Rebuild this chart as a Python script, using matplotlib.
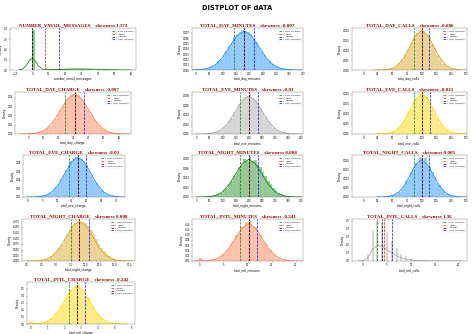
import numpy as np
import matplotlib.pyplot as plt

# number_vmail_messages
vmail_start, vmail_width = 0.0, 1.9
vmail_density = [0.390, 0.0, 0.0005, 0.001, 0.002, 0.003, 0.005, 0.007, 0.008, 0.009, 0.010,
                 0.010, 0.010, 0.009, 0.009, 0.008, 0.007, 0.006, 0.005, 0.004, 0.003, 0.002,
                 0.0015, 0.001, 0.0005, 0.0003, 0.0002]
vmail_kde_x = [-8, -6, -4, -2, 0, 2, 4, 6, 8, 10, 15, 20, 25, 30, 35, 40, 45, 50, 55, 60]
vmail_kde_y = [0.001, 0.009, 0.036, 0.085, 0.115, 0.085, 0.037, 0.011, 0.004, 0.003, 0.005,
               0.008, 0.010, 0.010, 0.009, 0.007, 0.004, 0.002, 0.0008, 0.0002]
vmail_stats = [0.0, 7.76, 0.0, 16.0]

# total_day_minutes
day_min_start, day_min_width = 0.0, 10.0
day_min_density = [0.00005, 0.00006, 0.00015, 0.0002, 0.00035, 0.00048, 0.0008, 0.0011, 0.0016,
                   0.0021, 0.0029, 0.0035, 0.0045, 0.0051, 0.0061, 0.0065, 0.0072, 0.0075, 0.0073,
                   0.0071, 0.0067, 0.0059, 0.0053, 0.0043, 0.0036, 0.0029, 0.0021, 0.0016, 0.0011,
                   0.0008, 0.0005, 0.0003, 0.0002, 0.0001, 0.00005]
day_min_kde_x = [-36, -9, 18, 45, 72, 99, 126, 153, 180, 207, 234, 261, 288, 315, 342, 369, 396]
day_min_kde_y = [0.0, 0.00002, 0.00008, 0.00032, 0.00099, 0.00237, 0.00443, 0.00644, 0.0073,
                 0.00644, 0.00443, 0.00237, 0.00099, 0.00032, 0.00008, 0.00002, 0.0]
day_min_stats = [143.7, 180.3, 180.1, 216.2]

# total_day_calls
day_calls_start, day_calls_width = 0.0, 5.0
day_calls_density = [0.0001, 0.0, 0.0, 0.0, 0.00002, 0.00004, 0.0001, 0.0002, 0.0003, 0.0007,
                     0.0012, 0.002, 0.0035, 0.0051, 0.0079, 0.0104, 0.0136, 0.0159, 0.0188, 0.0195,
                     0.0201, 0.0181, 0.0167, 0.0129, 0.0110, 0.0074, 0.0055, 0.0031, 0.0022, 0.0011,
                     0.0006, 0.0003, 0.0001]
day_calls_kde_x = [20, 30, 40, 50, 60, 70, 80, 90, 100, 110, 120, 130, 140, 150, 160, 170, 180]
day_calls_kde_y = [0.00001, 0.00004, 0.00022, 0.00087, 0.00268, 0.00643, 0.01201, 0.01747, 0.0198,
                   0.01747, 0.01201, 0.00643, 0.00268, 0.00087, 0.00022, 0.00004, 0.00001]
day_calls_stats = [87.0, 100.0, 100.0, 113.0]

# total_day_charge
day_chg_start, day_chg_width = 0.0, 1.7
day_chg_density = [0.0003, 0.0004, 0.0008, 0.0013, 0.0019, 0.0029, 0.0045, 0.0066, 0.0091, 0.0126,
                   0.0163, 0.0211, 0.0257, 0.0301, 0.0347, 0.0389, 0.0416, 0.0431, 0.0428, 0.0416,
                   0.0383, 0.0352, 0.0300, 0.0258, 0.0207, 0.0167, 0.0124, 0.0092, 0.0065, 0.0044,
                   0.003, 0.0019, 0.0011, 0.0007, 0.0003]
day_chg_kde_x = [-6.4, -1.8, 2.9, 7.5, 12.1, 16.7, 21.3, 26.0, 30.6, 35.2, 39.9, 44.5, 49.1, 53.7,
                 58.4, 63.0, 67.6]
day_chg_kde_y = [0.0, 0.0001, 0.0005, 0.0019, 0.0058, 0.014, 0.0261, 0.038, 0.043, 0.038, 0.0261,
                 0.014, 0.0058, 0.0019, 0.0005, 0.0001, 0.0]
day_chg_stats = [24.43, 30.65, 30.62, 36.75]

# total_eve_minutes
eve_min_start, eve_min_width = 0.0, 10.0
eve_min_density = [0.00002, 0.0, 0.00002, 0.00006, 0.00008, 0.00012, 0.00024, 0.00035, 0.00062,
                   0.00088, 0.0014, 0.0019, 0.0027, 0.0034, 0.0045, 0.0052, 0.0063, 0.0069, 0.0077,
                   0.0078, 0.0083, 0.0074, 0.0071, 0.0061, 0.0054, 0.0043, 0.0035, 0.0026, 0.0020,
                   0.0013, 0.0009, 0.0006, 0.0004, 0.0002, 0.00013, 0.00006, 0.00004]
eve_min_kde_x = [-2, 23, 49, 74, 99, 125, 150, 175, 200.6, 226, 251, 276, 302, 327, 352, 378, 403]
eve_min_kde_y = [0.0, 0.00002, 0.00009, 0.00035, 0.00107, 0.00257, 0.00479, 0.00697, 0.0079,
                 0.00697, 0.00479, 0.00257, 0.00107, 0.00035, 0.00009, 0.00002, 0.0]
eve_min_stats = [166.4, 200.6, 201.0, 234.1]

# total_eve_calls
eve_calls_start, eve_calls_width = 0.0, 5.0
eve_calls_density = [0.00005, 0.0, 0.0, 0.0, 0.0, 0.00002, 0.00008, 0.00014, 0.0004, 0.0006,
                     0.0013, 0.0020, 0.0034, 0.0054, 0.0075, 0.0109, 0.0131, 0.0166, 0.0181, 0.0200,
                     0.0193, 0.0186, 0.0160, 0.0135, 0.0104, 0.0079, 0.0051, 0.0035, 0.0020, 0.0012,
                     0.0007, 0.0003, 0.00015, 0.00006]
eve_calls_kde_x = [20.6, 30.5, 40.5, 50.4, 60.4, 70.3, 80.3, 90.2, 100.2, 110.1, 120.1, 130.0,
                   140.0, 149.9, 159.9, 169.8, 179.8]
eve_calls_kde_y = [0.00001, 0.00004, 0.00022, 0.00088, 0.00271, 0.00649, 0.01213, 0.01765, 0.02,
                   0.01765, 0.01213, 0.00649, 0.00271, 0.00088, 0.00022, 0.00004, 0.00001]
eve_calls_stats = [87.0, 100.2, 100.0, 114.0]

# total_eve_charge
eve_chg_start, eve_chg_width = 0.0, 0.85
eve_chg_density = [0.0003, 0.0001, 0.0002, 0.0006, 0.0009, 0.0014, 0.0027, 0.0043, 0.0072, 0.0105,
                   0.0160, 0.0226, 0.0310, 0.0412, 0.0513, 0.0624, 0.0729, 0.0832, 0.0880, 0.0935,
                   0.0915, 0.0896, 0.0815, 0.0738, 0.0617, 0.0520, 0.0404, 0.0316, 0.0223, 0.0162,
                   0.0106, 0.0070, 0.0045, 0.0025, 0.0015, 0.0008, 0.0005]
eve_chg_kde_x = [-0.15, 2.0, 4.15, 6.3, 8.45, 10.6, 12.75, 14.9, 17.05, 19.2, 21.35, 23.5, 25.65,
                 27.8, 29.95, 32.1, 34.25]
eve_chg_kde_y = [0.0, 0.0002, 0.001, 0.0041, 0.0126, 0.0302, 0.0564, 0.0821, 0.093, 0.0821, 0.0564,
                 0.0302, 0.0126, 0.0041, 0.001, 0.0002, 0.0]
eve_chg_stats = [14.14, 17.05, 17.09, 19.9]

# total_night_minutes
night_min_start, night_min_width = 20.0, 10.0
night_min_density = [0.00002, 0.00004, 0.00008, 0.00015, 0.0002, 0.0004, 0.0006, 0.0009, 0.0014,
                     0.0018, 0.0027, 0.0033, 0.0045, 0.0051, 0.0064, 0.0068, 0.0079, 0.0076, 0.0084,
                     0.0075, 0.0077, 0.0069, 0.0063, 0.0052, 0.0045, 0.0034, 0.0027, 0.0019, 0.0014,
                     0.0009, 0.0006, 0.0004, 0.0002, 0.00013, 0.00008, 0.00004, 0.00002, 0.00002]
night_min_kde_x = [-1.6, 23.6, 48.9, 74.1, 99.4, 124.7, 149.9, 175.2, 200.4, 225.7, 250.9, 276.2,
                   301.4, 326.7, 351.9, 377.2, 402.4]
night_min_kde_y = [0.0, 0.00002, 0.00009, 0.00035, 0.00107, 0.00257, 0.00479, 0.00697, 0.0079,
                   0.00697, 0.00479, 0.00257, 0.00107, 0.00035, 0.00009, 0.00002, 0.0]
night_min_stats = [166.9, 200.4, 200.4, 234.7]

# total_night_calls
night_calls_start, night_calls_width = 32.0, 4.0
night_calls_density = [0.00005, 0.0001, 0.0003, 0.0004, 0.0009, 0.0012, 0.0022, 0.0029, 0.0047,
                       0.0060, 0.0089, 0.0101, 0.0141, 0.0150, 0.0188, 0.0182, 0.0222, 0.0195,
                       0.0215, 0.0170, 0.0168, 0.0139, 0.0112, 0.0080, 0.0066, 0.0042, 0.0033,
                       0.0018, 0.0014, 0.0007, 0.0005, 0.0002, 0.0001, 0.00008, 0.00003, 0.00002]
night_calls_kde_x = [21.9, 31.7, 41.4, 51.2, 60.9, 70.7, 80.4, 90.2, 99.9, 109.7, 119.4, 129.2,
                     138.9, 148.7, 158.4, 168.2, 177.9]
night_calls_kde_y = [0.00001, 0.00005, 0.00023, 0.0009, 0.00277, 0.00666, 0.01243, 0.01809, 0.0205,
                     0.01809, 0.01243, 0.00666, 0.00277, 0.0009, 0.00023, 0.00005, 0.00001]
night_calls_stats = [87.0, 99.9, 100.0, 113.0]

# total_night_charge
night_chg_start, night_chg_width = 0.9, 0.45
night_chg_density = [0.0004, 0.0009, 0.0018, 0.0029, 0.0049, 0.0080, 0.0131, 0.0200, 0.0295, 0.0421,
                     0.0577, 0.0764, 0.0960, 0.1170, 0.1370, 0.1550, 0.1690, 0.1730, 0.1760, 0.1720,
                     0.1680, 0.1560, 0.1380, 0.1190, 0.0980, 0.0770, 0.0590, 0.0430, 0.0300, 0.0200,
                     0.0133, 0.0080, 0.0050, 0.0029, 0.0017, 0.0009, 0.0004, 0.0002]
night_chg_kde_x = [-0.06, 1.07, 2.21, 3.34, 4.48, 5.61, 6.75, 7.88, 9.02, 10.16, 11.29, 12.43,
                   13.56, 14.7, 15.83, 16.97, 18.1]
night_chg_kde_y = [0.0001, 0.0004, 0.0019, 0.0077, 0.0237, 0.0568, 0.1061, 0.1544, 0.175, 0.1544,
                   0.1061, 0.0568, 0.0237, 0.0077, 0.0019, 0.0004, 0.0001]
night_chg_stats = [7.51, 9.02, 9.02, 10.56]

# total_intl_minutes
intl_min_start, intl_min_width = 0.0, 0.5
intl_min_density = [0.010, 0.0, 0.0006, 0.0016, 0.0020, 0.0042, 0.0056, 0.0102, 0.0130, 0.0215,
                    0.0270, 0.0410, 0.0490, 0.0680, 0.0770, 0.0990, 0.1060, 0.1290, 0.1280, 0.1500,
                    0.1400, 0.1520, 0.1280, 0.1290, 0.1040, 0.0990, 0.0760, 0.0680, 0.0490, 0.0410,
                    0.0270, 0.0215, 0.0130, 0.0100, 0.0056, 0.0040, 0.0022, 0.0014, 0.0008, 0.0010]
intl_min_kde_x = [-0.9, 0.0, 0.5, 1.89, 3.29, 4.68, 6.08, 7.47, 8.87, 10.26, 11.66, 13.05, 14.45,
                  15.84, 17.24, 18.63, 20.03, 21.42]
intl_min_kde_y = [0.0005, 0.004, 0.0025, 0.0016, 0.0062, 0.0192, 0.0461, 0.0861, 0.1253, 0.142,
                  0.1253, 0.0861, 0.0461, 0.0192, 0.0062, 0.0016, 0.0003, 0.0]
intl_min_stats = [8.5, 10.26, 10.3, 12.0]

# total_intl_calls (integer valued, one bar per call count)
intl_calls_values = [0, 1, 2, 3, 4, 5, 6, 7, 8, 9, 10, 11, 12, 13, 14, 15, 16, 17, 18, 19, 20]
intl_calls_width = 0.4
intl_calls_density = [0.0125, 0.0875, 0.375, 0.50, 0.475, 0.35, 0.25, 0.16, 0.0875, 0.0625, 0.0375,
                      0.0175, 0.01, 0.0075, 0.0025, 0.004, 0.001, 0.001, 0.001, 0.001, 0.001]
intl_calls_kde_x = [-1, -0.5, 0, 0.5, 1, 1.5, 2, 2.5, 3, 3.5, 4, 4.5, 5, 5.5, 6, 6.5, 7, 7.5, 8,
                    8.5, 9, 9.5, 10, 10.5, 11, 11.5, 12, 13, 14, 15, 16, 17, 18, 19, 20, 21]
intl_calls_kde_y = [0.00005, 0.0024, 0.007, 0.019, 0.043, 0.088, 0.151, 0.167, 0.203, 0.186, 0.194,
                    0.158, 0.146, 0.115, 0.104, 0.079, 0.068, 0.048, 0.038, 0.029, 0.026, 0.019,
                    0.016, 0.011, 0.0076, 0.005, 0.0045, 0.003, 0.0012, 0.0014, 0.0005, 0.0004,
                    0.0004, 0.0004, 0.0004, 0.00005]
intl_calls_stats = [3.0, 4.44, 4.0, 6.0]

# total_intl_charge
intl_chg_start, intl_chg_width = 0.0, 0.135
intl_chg_density = [0.037, 0.0, 0.002, 0.006, 0.0074, 0.0155, 0.021, 0.038, 0.048, 0.080, 0.100,
                    0.152, 0.181, 0.252, 0.285, 0.366, 0.392, 0.478, 0.474, 0.555, 0.518, 0.563,
                    0.474, 0.478, 0.385, 0.366, 0.281, 0.252, 0.181, 0.152, 0.100, 0.080, 0.048,
                    0.037, 0.021, 0.015, 0.008, 0.005, 0.003, 0.004]
intl_chg_kde_x = [-0.24, 0.0, 0.13, 0.51, 0.89, 1.26, 1.64, 2.01, 2.39, 2.77, 3.15, 3.52, 3.9,
                  4.27, 4.65, 5.03, 5.41, 5.78]
intl_chg_kde_y = [0.002, 0.015, 0.009, 0.006, 0.023, 0.0717, 0.172, 0.321, 0.468, 0.53, 0.468,
                  0.321, 0.172, 0.0717, 0.023, 0.006, 0.0012, 0.0002]
intl_chg_stats = [2.3, 2.77, 2.78, 3.24]

skews = ['1.373', '-0.007', '-0.086', '-0.007', '-0.03', '-0.021', '-0.03',
         '0.008', '0.005', '0.008', '-0.241', '1.36', '-0.242']

columns = ['number_vmail_messages', 'total_day_minutes', 'total_day_calls', 'total_day_charge',
           'total_eve_minutes', 'total_eve_calls', 'total_eve_charge', 'total_night_minutes',
           'total_night_calls', 'total_night_charge', 'total_intl_minutes', 'total_intl_calls',
           'total_intl_charge']


def hist_bars(start, width, density):
    edges = start + width * np.arange(len(density))
    return edges, width, density


panels = [
    (hist_bars(vmail_start, vmail_width, vmail_density), vmail_kde_x, vmail_kde_y, vmail_stats),
    (hist_bars(day_min_start, day_min_width, day_min_density), day_min_kde_x, day_min_kde_y, day_min_stats),
    (hist_bars(day_calls_start, day_calls_width, day_calls_density), day_calls_kde_x, day_calls_kde_y, day_calls_stats),
    (hist_bars(day_chg_start, day_chg_width, day_chg_density), day_chg_kde_x, day_chg_kde_y, day_chg_stats),
    (hist_bars(eve_min_start, eve_min_width, eve_min_density), eve_min_kde_x, eve_min_kde_y, eve_min_stats),
    (hist_bars(eve_calls_start, eve_calls_width, eve_calls_density), eve_calls_kde_x, eve_calls_kde_y, eve_calls_stats),
    (hist_bars(eve_chg_start, eve_chg_width, eve_chg_density), eve_chg_kde_x, eve_chg_kde_y, eve_chg_stats),
    (hist_bars(night_min_start, night_min_width, night_min_density), night_min_kde_x, night_min_kde_y, night_min_stats),
    (hist_bars(night_calls_start, night_calls_width, night_calls_density), night_calls_kde_x, night_calls_kde_y, night_calls_stats),
    (hist_bars(night_chg_start, night_chg_width, night_chg_density), night_chg_kde_x, night_chg_kde_y, night_chg_stats),
    (hist_bars(intl_min_start, intl_min_width, intl_min_density), intl_min_kde_x, intl_min_kde_y, intl_min_stats),
    ((np.array(intl_calls_values) - intl_calls_width / 2, intl_calls_width, intl_calls_density),
     intl_calls_kde_x, intl_calls_kde_y, intl_calls_stats),
    (hist_bars(intl_chg_start, intl_chg_width, intl_chg_density), intl_chg_kde_x, intl_chg_kde_y, intl_chg_stats),
]

colors = ['forestgreen', 'dodgerblue', 'goldenrod', 'coral', 'darkgray', 'gold', 'dodgerblue',
          'forestgreen', 'dodgerblue', 'goldenrod', 'coral', 'darkgray', 'gold']

xlims = [(-13.5, 63), (-15, 400), (-19, 177), (-9, 68), (-17, 408), (-19, 177), (-1.5, 33),
         (-17, 408), (-19, 177), (-0.8, 18.5), (-1.5, 21.5), (-2.3, 21.7), (-0.2, 6.2)]

# axes boxes in pixels: left, top, right, bottom (figure is 474 x 334)
row_top = [28, 92, 155, 219, 282]
col1 = [(10, 136), (15, 131), (23, 125), (22, 135), (27, 135)]
W, H = 474, 334

fig = plt.figure(figsize=(23.7, 16.7), dpi=20)
fig.suptitle('DISTPLOT OF dATA', fontsize=24, fontweight='bold', y=0.985)

title_font = {'family': 'Liberation Serif', 'color': 'darkred', 'weight': 'bold', 'size': 18}

for i, (bars, kx, ky, stats) in enumerate(panels):
    r, c = divmod(i, 3)
    if c == 0:
        left, right = col1[r]
    elif c == 1:
        left, right = 192, 303
    else:
        left, right = 352, 467
    top = row_top[r]
    ax = fig.add_axes([left / W, 1 - (top + 42) / H, (right - left) / W, 42 / H])

    edges, width, dens = bars
    color = colors[i]
    ax.bar(edges, dens, width=width, align='edge', color=color, alpha=0.5,
           edgecolor='white', linewidth=0.8)
    ax.plot(kx, ky, color=color, lw=3)

    q25, mean, median, q75 = stats
    ax.axvline(q25, color='g', ls='--', lw=2.5, label='25% Quartile')
    ax.axvline(mean, color='r', ls='--', lw=2.5, label='Mean')
    ax.axvline(median, color='k', ls='--', lw=2.5, label='Median')
    ax.axvline(q75, color='b', ls='--', lw=2.5, label='75% Quartile')

    ax.set_xlim(*xlims[i])
    ax.set_title(f'{columns[i].upper()}    skewness {skews[i]}', fontdict=title_font)
    ax.set_xlabel(columns[i], fontsize=11)
    ax.set_ylabel('Density', fontsize=10)
    ax.tick_params(labelsize=9)
    ax.legend(loc='upper right', fontsize=8.5)

fig.savefig('out.png', dpi=20)
